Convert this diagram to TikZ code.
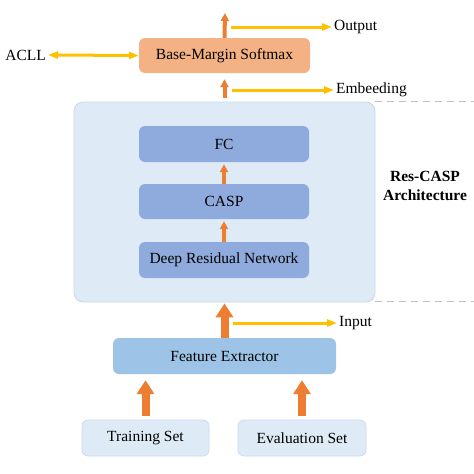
\documentclass[tikz,border=0pt]{standalone}
\usepackage{fontspec}
\setmainfont{Liberation Serif}
\usetikzlibrary{arrows.meta}
\definecolor{orangebox}{HTML}{F4B183}
\definecolor{paleblue}{HTML}{DEEBF7}
\definecolor{paleedge}{HTML}{C8D8EC}
\definecolor{midblue}{HTML}{8FAADC}
\definecolor{feblue}{HTML}{9DC3E6}
\definecolor{arroworange}{HTML}{ED7D31}
\definecolor{arrowyellow}{HTML}{FFC000}
\definecolor{dashgray}{HTML}{BFBFBF}
\tikzset{
  box/.style={rounded corners=6pt, minimum height=36pt, inner sep=0pt, font=\fontsize{15.5}{18}\selectfont},
  lbl/.style={inner sep=2pt, font=\fontsize{15.5}{18}\selectfont},
  bigup/.style={draw=arroworange, line width=8pt, -{Triangle[width=17pt,length=14pt]}},
  smallup/.style={draw=arroworange, line width=4pt, -{Triangle[width=8pt,length=8pt]}},
  yarrow/.style={draw=arrowyellow, line width=3pt, -{Triangle[width=7pt,length=10pt]}},
  yboth/.style={draw=arrowyellow, line width=3pt, {Triangle[width=7pt,length=10pt]}-{Triangle[width=7pt,length=10pt]}},
  sepline/.style={draw=dashgray, line width=1pt, dash pattern=on 7pt off 5pt}
}
\begin{document}
\begin{tikzpicture}[x=1pt,y=-1pt]
\useasboundingbox (0,0) rectangle (474,474);
% containers and boxes
\node[box, fill=paleblue, draw=paleedge, line width=0.8pt, minimum width=301pt, minimum height=200pt, rounded corners=9pt] (big) at (224.5,202) {};
\node[box, fill=orangebox, minimum width=171pt, minimum height=35pt] (bms) at (224.5,55.5) {Base-Margin Softmax};
\node[box, fill=midblue, minimum width=170pt] (fc) at (224,144) {FC};
\node[box, fill=midblue, minimum width=170pt, minimum height=35pt] (casp) at (224,201.5) {CASP};
\node[box, fill=midblue, minimum width=170pt] (drn) at (224,260) {Deep Residual Network};
\node[box, fill=feblue, minimum width=223pt] (fe) at (224.5,356) {Feature Extractor};
\node[box, fill=paleblue, draw=paleedge, line width=0.6pt, minimum width=127pt] (ts) at (145.5,438) {Training Set};
\node[box, fill=paleblue, draw=paleedge, line width=0.6pt, minimum width=128pt] (es) at (302,438) {Evaluation Set};
% labels
\node[lbl, anchor=east] (acll) at (48,55) {ACLL};
\node[lbl, anchor=west] (outp) at (332,27) {Output};
\node[lbl, anchor=west] (emb) at (334,90) {Embeeding};
\node[lbl, anchor=west] (inp) at (337,323) {Input};
\node[lbl, align=center, font=\fontsize{15.5}{19}\selectfont\bfseries] (arch) at (425,186) {Res-CASP\\Architecture};
% free ends
\coordinate (outtop) at (225,13);
\coordinate (outs) at (231,27);
\coordinate (embs) at (232,90);
\coordinate (inps) at (233,323);
\coordinate (d1a) at (375,101);
\coordinate (d1b) at (474,101);
\coordinate (d2a) at (375,301);
\coordinate (d2b) at (474,301);
% dashed separators
\draw[sepline] (d1a) -- (d1b);
\draw[sepline] (d2a) -- (d2b);
% orange arrows
\draw[smallup] (bms.north) -- (outtop);
\draw[smallup, shorten <=4pt, shorten >=6pt] (big.north) -- (bms.south);
\draw[smallup, shorten >=2pt] (casp.north) -- (fc.south);
\draw[smallup, shorten >=2pt] (drn.north) -- (casp.south);
\draw[bigup, shorten >=1pt] (fe.north) -- (big.south);
\draw[bigup, shorten <=4pt, shorten >=6pt] (ts.north) -- (ts.north |- fe.south);
\draw[bigup, shorten <=4pt, shorten >=6pt] (es.north) -- (es.north |- fe.south);
% yellow arrows
\draw[yarrow] (outs) -- (outp.west);
\draw[yarrow] (embs) -- (emb.west);
\draw[yarrow] (inps) -- (inp.west);
\draw[yboth] (acll.east) -- (bms.west);
\end{tikzpicture}
\end{document}
